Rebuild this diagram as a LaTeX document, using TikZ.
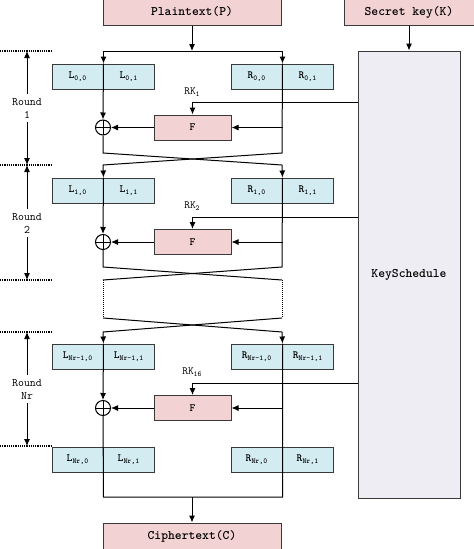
\documentclass[tikz,border=0pt]{standalone}
\usepackage{fontspec}
\usetikzlibrary{arrows.meta}
\usetikzlibrary{calc}

\definecolor{pinkfill}{HTML}{F2D2D2}
\definecolor{bluefill}{HTML}{D3ECF1}
\definecolor{keyfill}{HTML}{EEEDF3}
\definecolor{boxline}{HTML}{3A3A3A}

% letter with a small lowered index
\newcommand{\blk}[2]{#1\raisebox{-0.4ex}{\fontsize{7.5}{7.5}\selectfont #2}}

\begin{document}
\begin{tikzpicture}
     [x=1pt,y=-1pt,line width=1pt,>={Latex[length=7pt,width=6pt]},
      % Styles
        text box/.style={draw=boxline,fill=pinkfill,inner sep=0pt,minimum height=25pt,
          font=\ttfamily\fontsize{13}{13}\selectfont\bfseries},
        half box/.style={draw=boxline,fill=bluefill,inner sep=0pt,minimum width=51pt,
          minimum height=25pt,font=\ttfamily\fontsize{11}{11}\selectfont\bfseries},
        f box/.style={text box,minimum width=77pt,font=\ttfamily\fontsize{11}{11}\selectfont\bfseries},
        xor/.style={circle,draw,minimum size=15pt,inner sep=0pt,
          path picture={\draw (path picture bounding box.north) -- (path picture bounding box.south)
                              (path picture bounding box.west) -- (path picture bounding box.east);}},
        round label/.style={align=center,font=\ttfamily\fontsize{11.5}{13}\selectfont},
        round mark/.style={densely dotted,line width=1.2pt},
        key text/.style={font=\ttfamily\fontsize{11}{11}\selectfont}]
    \useasboundingbox (0,0) rectangle (474,549);

    % input, output and key boxes
    \node[text box,minimum width=178pt,minimum height=26pt] (plain) at (192,12) {Plaintext(P)};
    \node[text box,minimum width=130pt,minimum height=26pt] (key) at (409,12) {Secret key(K)};
    \node[text box,minimum width=178pt,minimum height=27pt] (cipher) at (192,536.5) {Ciphertext(C)};
    \node[draw=boxline,fill=keyfill,minimum width=102pt,minimum height=447pt,
          font=\ttfamily\fontsize{13}{13}\selectfont\bfseries] (ks) at (409,274.5) {KeySchedule};
    \draw[->] (key.south) -- (ks.north);

    % halves of every round
    \node[half box] (L00) at (77.5,76.5)  {\blk{L}{0,0}};
    \node[half box] (L01) at (128.5,76.5) {\blk{L}{0,1}};
    \node[half box] (R00) at (256.5,76.5) {\blk{R}{0,0}};
    \node[half box] (R01) at (307.5,76.5) {\blk{R}{0,1}};

    \node[half box] (L10) at (77.5,190.5)  {\blk{L}{1,0}};
    \node[half box] (L11) at (128.5,190.5) {\blk{L}{1,1}};
    \node[half box] (R10) at (256.5,190.5) {\blk{R}{1,0}};
    \node[half box] (R11) at (307.5,190.5) {\blk{R}{1,1}};

    \node[half box] (L20) at (77.5,356.5)  {\blk{L}{Nr-1,0}};
    \node[half box] (L21) at (128.5,356.5) {\blk{L}{Nr-1,1}};
    \node[half box] (R20) at (256.5,356.5) {\blk{R}{Nr-1,0}};
    \node[half box] (R21) at (307.5,356.5) {\blk{R}{Nr-1,1}};

    \node[half box] (L30) at (77.5,459.5)  {\blk{L}{Nr,0}};
    \node[half box] (L31) at (128.5,459.5) {\blk{L}{Nr,1}};
    \node[half box] (R30) at (256.5,459.5) {\blk{R}{Nr,0}};
    \node[half box] (R31) at (307.5,459.5) {\blk{R}{Nr,1}};

    % round functions
    \node[f box] (F1) at (192.5,127.5) {F};
    \node[f box] (F2) at (192.5,242)   {F};
    \node[f box] (F3) at (192.5,408)   {F};
    \node[xor] (x1) at (103,127.5) {};
    \node[xor] (x2) at (103,242)   {};
    \node[xor] (x3) at (103,408)   {};
    \node[key text] (rk1) at (192,92)  {\blk{RK}{1}};
    \node[key text] (rk2) at (192,206) {\blk{RK}{2}};
    \node[key text] (rk3) at (192,372) {\blk{RK}{16}};

    % split of the plaintext
    \coordinate (split) at (192,51);
    \draw[->] (plain.south) -- (split);
    \draw (L00.north east |- split) -- (R00.north east |- split);
    \draw[->] (L00.north east |- split) -- (L00.north east);
    \draw[->] (R00.north east |- split) -- (R00.north east);

    % round 1
    \draw[->] (L00.north east) -- (x1.north);
    \draw[->] (ks.west |- 0,102) -| (F1.north);
    \draw[->] (R00.north east |- F1) -- (F1.east);
    \draw[->] (F1.west) -- (x1.east);
    \draw (x1.south) -- (103,153) -- (282,165);
    \draw (R00.north east) -- (282,153) -- (103,165);
    \draw[->] (103,165) -- (L10.north east);
    \draw[->] (282,165) -- (R10.north east);

    % round 2
    \draw[->] (L10.north east) -- (x2.north);
    \draw[->] (ks.west |- 0,217) -| (F2.north);
    \draw[->] (R10.north east |- F2) -- (F2.east);
    \draw[->] (F2.west) -- (x2.east);
    \draw (x2.south) -- (103,267) -- (282,280);
    \draw (R10.north east) -- (282,267) -- (103,280);

    % rounds left out
    \draw[densely dotted] (103,280) -- (103,318);
    \draw[densely dotted] (282,280) -- (282,318);
    \draw (103,318) -- (282,332);
    \draw (282,318) -- (103,332);
    \draw[->] (103,332) -- (L20.north east);
    \draw[->] (282,332) -- (R20.north east);

    % round Nr
    \draw[->] (L20.north east) -- (x3.north);
    \draw[->] (ks.west |- 0,383) -| (F3.north);
    \draw[->] (R20.north east |- F3) -- (F3.east);
    \draw[->] (F3.west) -- (x3.east);
    \coordinate (out) at (192,497);
    \draw (x3.south) -- (L30.north east |- out) -- (R30.north east |- out) -- (R20.north east);
    \draw[->] (out) -- (cipher.north);

    % round marks
    \foreach \m in {51,165,280,332,446}
      \draw[round mark] (0,\m) -- (52,\m);
    \node[round label] (r1) at (27,108) {Round\\1};
    \node[round label] (r2) at (27,223) {Round\\2};
    \node[round label] (r3) at (27,389) {Round\\Nr};
    \draw[->] (r1.north) -- (27,51);
    \draw[->] (r1.south) -- (27,165);
    \draw[->] (r2.north) -- (27,165);
    \draw[->] (r2.south) -- (27,280);
    \draw[->] (r3.north) -- (27,332);
    \draw[->] (r3.south) -- (27,446);
  \end{tikzpicture}
\end{document}
